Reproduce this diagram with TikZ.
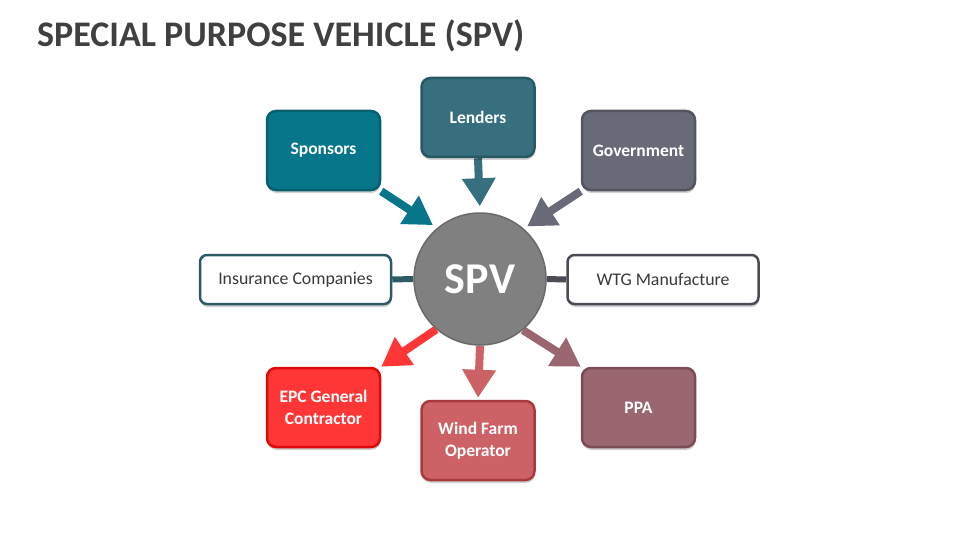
\documentclass[tikz,border=0pt]{standalone}
\usepackage{fontspec}
\setmainfont{Carlito}
\usetikzlibrary{arrows.meta,shadows,backgrounds}
\definecolor{titlec}{HTML}{404040}
\definecolor{sponF}{HTML}{07768A}\definecolor{sponD}{HTML}{055F6F}
\definecolor{lendF}{HTML}{376F7E}\definecolor{lendD}{HTML}{285864}
\definecolor{govF}{HTML}{696A77}\definecolor{govD}{HTML}{545561}
\definecolor{insD}{HTML}{2E5A66}
\definecolor{wtgD}{HTML}{4B4B55}
\definecolor{epcF}{HTML}{FF3636}\definecolor{epcD}{HTML}{DD0A0A}
\definecolor{windF}{HTML}{CD6266}\definecolor{windD}{HTML}{A83A3E}
\definecolor{ppaF}{HTML}{9A6670}\definecolor{ppaD}{HTML}{7A4C55}
\definecolor{spvF}{HTML}{808080}\definecolor{spvD}{HTML}{6A6A6A}
\definecolor{textD}{HTML}{3A3A3A}
\tikzset{
  shad/.style={drop shadow={shadow xshift=0.5pt,shadow yshift=-3pt,opacity=0.18,fill=black}},
  colbox/.style={shad,rounded corners=9pt,line width=2.5pt,minimum width=113pt,minimum height=79pt,
    text=white,align=center,font=\bfseries\fontsize{17.5}{22}\selectfont},
  wbox/.style={shad,rounded corners=7pt,line width=2.5pt,fill=white,minimum width=191pt,minimum height=49pt,
    text=textD,font=\fontsize{17.8}{20}\selectfont},
  arr/.style={line width=8pt,-{Triangle[length=28pt,width=32pt]}},
  link/.style={line width=6pt}
}
\begin{document}
\begin{tikzpicture}[x=1pt,y=-1pt]
\useasboundingbox (0,0) rectangle (960,540);
\node[anchor=base west,text=titlec,font=\bfseries\fontsize{36}{40}\selectfont,inner sep=0pt] (title) at (37,47) {SPECIAL PURPOSE VEHICLE (SPV)};

\node[circle,minimum size=132pt,fill=spvF,draw=spvD,line width=1.5pt,inner sep=0pt,text=white,font=\bfseries\fontsize{44}{50}\selectfont] (spv) at (480,279) {SPV};

\node[colbox,fill=sponF,draw=sponD] (spon) at (323.5,150.5) {Sponsors};
\node[colbox,fill=lendF,draw=lendD] (lend) at (478,117.5) {Lenders};
\node[colbox,fill=govF,draw=govD] (gov) at (638.5,150.5) {Government};
\node[wbox,draw=insD] (ins) at (295.5,279.5) {Insurance Companies};
\node[wbox,draw=wtgD] (wtg) at (663,279.5) {WTG Manufacture};
\node[colbox,fill=epcF,draw=epcD] (epc) at (323.5,407.5) {EPC General\\Contractor};
\node[colbox,fill=windF,draw=windD] (wind) at (478,440.5) {Wind Farm\\Operator};
\node[colbox,fill=ppaF,draw=ppaD] (ppa) at (638.5,407.5) {PPA};

\begin{scope}[on background layer]
\draw[arr,draw=sponF,fill=sponF,shorten >=5pt] (spon.south east) -- (spv.130);
\draw[arr,draw=lendF,fill=lendF,shorten >=6pt] (lend.south) -- (spv.north);
\draw[arr,draw=govF,fill=govF,shorten >=4pt] (gov.south west) -- (spv.49);
\draw[link,draw=insD] (ins.east) -- (spv.west);
\draw[link,draw=wtgD] (spv.east) -- (wtg.west);
\draw[arr,draw=epcF,fill=epcF] (spv.229) -- (epc.north east);
\draw[arr,draw=windF,fill=windF,shorten >=2pt] (spv.south) -- (wind.north);
\draw[arr,draw=ppaF,fill=ppaF] (spv.-50) -- (ppa.north west);
\end{scope}
\end{tikzpicture}
\end{document}
